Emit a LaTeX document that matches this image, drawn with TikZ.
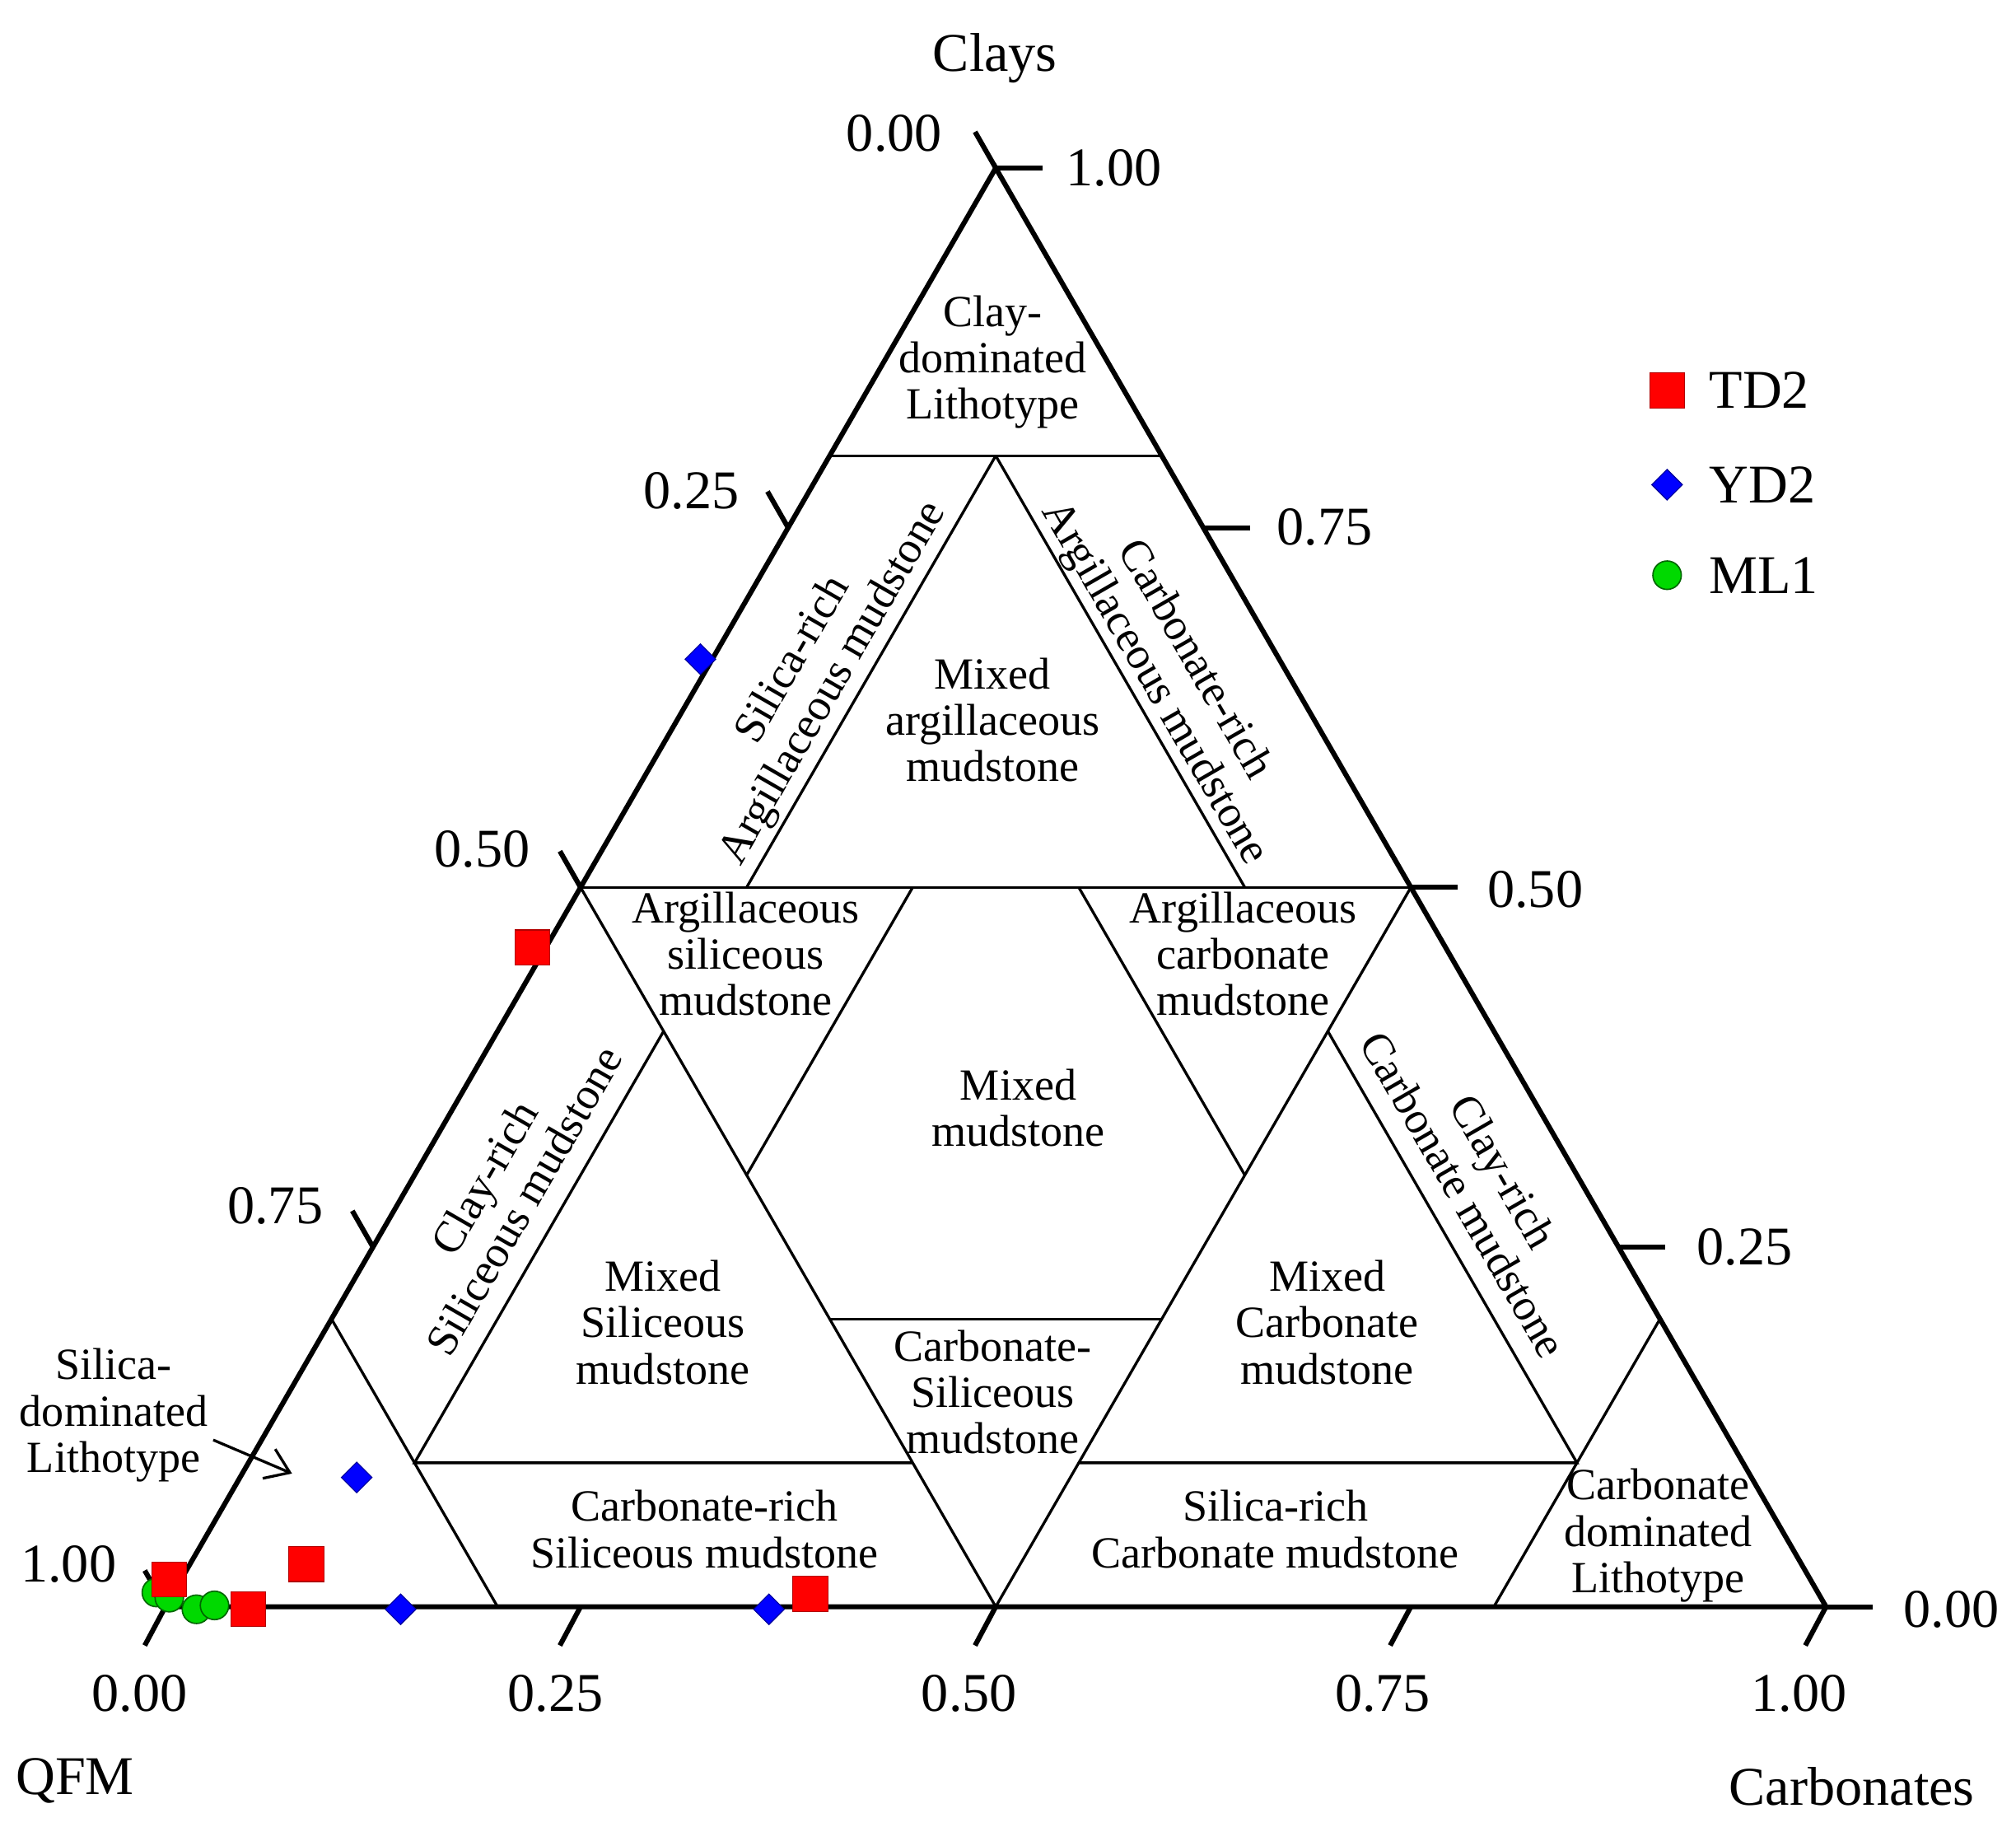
\documentclass[tikz,border=0pt]{standalone}
\usepackage{fontspec}
\setmainfont{Liberation Serif}
\usetikzlibrary{arrows.meta,shapes.geometric}
\begin{document}
\begin{tikzpicture}[x=0.01cm,y=-0.01cm,
  lab/.style={align=center,font=\fontsize{9.8}{10.2}\selectfont,inner sep=0pt},
  tick/.style={font=\fontsize{12}{14}\selectfont,inner sep=0pt},
  inner/.style={line width=0.6pt},
  outer/.style={line width=1.1pt},
  sq/.style={fill=red,draw=red!70!black,line width=0.2pt,minimum size=0.27cm,inner sep=0pt,rectangle},
  dm/.style={fill=blue,draw=blue!60!black,line width=0.2pt,minimum size=0.24cm,inner sep=0pt,diamond},
  ci/.style={fill=green!85!black,draw=green!40!black,line width=0.3pt,minimum size=0.22cm,inner sep=0pt,circle}]
\def\tp#1#2{({128+1285*(#1)+642.5*(#2)},{1243-1113*(#2)})}
\useasboundingbox (0,0) rectangle (1560,1413);
% outer triangle
\draw[outer,line join=miter] \tp{0}{0} -- \tp{1}{0} -- \tp{0}{1} -- cycle;
% full lines
\draw[inner] \tp{0}{0.8} -- \tp{0.2}{0.8};
\draw[inner] \tp{0}{0.5} -- \tp{0.5}{0.5};
\draw[inner] \tp{0.2}{0} -- \tp{0}{0.2};
\draw[inner] \tp{0.8}{0} -- \tp{0.8}{0.2};
\draw[inner] \tp{0}{0.5} -- \tp{0.5}{0};
\draw[inner] \tp{0.5}{0} -- \tp{0.5}{0.5};
% upper inner triangle
\draw[inner] \tp{0.1}{0.8} -- \tp{0.1}{0.5};
\draw[inner] \tp{0.1}{0.8} -- \tp{0.4}{0.5};
% argillaceous triangles
\draw[inner] \tp{0.2}{0.5} -- \tp{0.2}{0.3};
\draw[inner] \tp{0.3}{0.5} -- \tp{0.5}{0.3};
% carbonate-siliceous
\draw[inner] \tp{0.3}{0.2} -- \tp{0.5}{0.2};
% lower-left inner
\draw[inner] \tp{0.1}{0.4} -- \tp{0.1}{0.1} -- \tp{0.4}{0.1};
% lower-right inner
\draw[inner] \tp{0.5}{0.4} -- \tp{0.8}{0.1} -- \tp{0.5}{0.1};
% ticks left
\foreach \c in {1,0.75,0.5,0.25,0}{
  \draw[outer] \tp{0}{\c} -- ++(-16,-28);
}
\node[tick] at (692,103) {0.00};
\node[tick] at (535,380) {0.25};
\node[tick] at (373,657) {0.50};
\node[tick] at (213,933) {0.75};
\node[tick] at (53,1210) {1.00};
% ticks right
\foreach \c in {1,0.75,0.5,0.25,0}{
  \draw[outer] \tp{1-\c}{\c} -- ++(36,0);
}
\node[tick] at (862,130) {1.00};
\node[tick] at (1025,408) {0.75};
\node[tick] at (1188,688) {0.50};
\node[tick] at (1350,965) {0.25};
\node[tick] at (1510,1245) {0.00};
% ticks bottom
\foreach \k in {0,0.25,0.5,0.75,1}{
  \draw[outer] \tp{\k}{0} -- ++(-16,30);
}
\node[tick] at (108,1310) {0.00};
\node[tick] at (430,1310) {0.25};
\node[tick] at (750,1310) {0.50};
\node[tick] at (1070,1310) {0.75};
\node[tick] at (1392,1310) {1.00};
% axis titles
\node[tick] (clays) at (770,45) {Clays};
\node[tick] (qfm) at (58,1378) {QFM};
\node[tick] (carb) at (1433,1382) {Carbonates};
% region labels
\node[lab] (r1) at (768,280) {Clay-\\dominated\\Lithotype};
\node[lab,rotate=60] (r2) at (630,520) {Silica-rich\\Argillaceous mudstone};
\node[lab,rotate=-60] (r3) at (908,520) {Carbonate-rich\\Argillaceous mudstone};
\node[lab] (r4) at (768,557) {Mixed\\argillaceous\\mudstone};
\node[lab] (r5) at (577,738) {Argillaceous\\siliceous\\mudstone};
\node[lab] (r6) at (962,738) {Argillaceous\\carbonate\\mudstone};
\node[lab] (r7) at (788,857) {Mixed\\mudstone};
\node[lab,rotate=60] (r8) at (390,920) {Clay-rich\\Siliceous mudstone};
\node[lab,rotate=-60] (r9) at (1148,915) {Clay-rich\\Carbonate mudstone};
\node[lab] (r10) at (513,1023) {Mixed\\Siliceous\\mudstone};
\node[lab] (r11) at (1027,1023) {Mixed\\Carbonate\\mudstone};
\node[lab] (r12) at (768,1077) {Carbonate-\\Siliceous\\mudstone};
\node[lab] (r13) at (545,1183) {Carbonate-rich\\Siliceous mudstone};
\node[lab] (r14) at (987,1183) {Silica-rich\\Carbonate mudstone};
\node[lab] (r15) at (1283,1188) {Carbonate\\dominated\\Lithotype};
\node[lab] (r16) at (88,1095) {Silica-\\dominated\\Lithotype};
\coordinate (arrEnd) at (226,1140);
\draw[line width=0.6pt,-{Straight Barb[length=5pt,width=7pt]}] (165,1114) -- (arrEnd);
% data
\node[ci] (g1) at (121,1232) {};
\node[ci] (g2) at (131,1236) {};
\node[ci] (g3) at (152,1245) {};
\node[ci] (g4) at (166,1242) {};
\node[sq] (s1) at (412,733) {};
\node[sq] (s2) at (131,1222) {};
\node[sq] (s3) at (237,1210) {};
\node[sq] (s4) at (192,1245) {};
\node[sq] (s5) at (627,1233) {};
\node[dm] (d1) at (542,510) {};
\node[dm] (d2) at (276,1143) {};
\node[dm] (d3) at (310,1245) {};
\node[dm] (d4) at (595,1245) {};
% legend
\node[sq] (ls) at (1290,302) {};
\node[tick,anchor=west] (lst) at (1322,302) {TD2};
\node[dm] (ld) at (1290,375) {};
\node[tick,anchor=west] (ldt) at (1322,375) {YD2};
\node[ci] (lc) at (1290,445) {};
\node[tick,anchor=west] (lct) at (1322,445) {ML1};
\end{tikzpicture}
\end{document}
